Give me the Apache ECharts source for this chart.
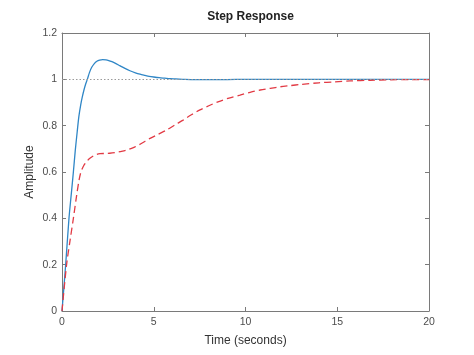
<!DOCTYPE html>
<html>
<head>
<meta charset="utf-8">
<script src="https://cdn.jsdelivr.net/npm/echarts@6/dist/echarts.min.js"></script>
<style>
html,body{margin:0;padding:0;background:#fff;}
#c{width:474px;height:355px;}
</style>
</head>
<body>
<div id="c"></div>
<script>
var titleText = 'Step Response';
var xName = 'Time (seconds)';
var yName = 'Amplitude';
var xTicks = [0, 5, 10, 15, 20];
var yTicks = [0, 0.2, 0.4, 0.6, 0.8, 1, 1.2];
var refLevel = 1;

var timeBlue = [0, 0.2, 0.38, 0.5, 0.62, 0.72, 0.83, 0.92, 1.02, 1.11, 1.2, 1.29, 1.38, 1.5, 1.62, 1.76, 1.9, 2.05, 2.22, 2.4, 2.55, 2.72, 2.89, 3.15, 3.43, 3.7, 4.0, 4.25, 4.52, 4.75, 5.0, 5.3, 5.6, 5.9, 6.2, 6.7, 7.3, 8, 9, 10, 12, 14, 16, 18, 20];
var ampBlue  = [0, 0.2, 0.4, 0.5, 0.6, 0.69, 0.775, 0.84, 0.89, 0.925, 0.955, 0.98, 1.0, 1.03, 1.052, 1.068, 1.078, 1.083, 1.085, 1.084, 1.081, 1.076, 1.07, 1.059, 1.047, 1.037, 1.028, 1.022, 1.017, 1.013, 1.01, 1.007, 1.005, 1.003, 1.002, 1.0, 0.999, 0.999, 0.999, 1.0, 1.0, 1.0, 1.0, 1.0, 1.0];

var timeRed = [0, 0.25, 0.45, 0.62, 0.8, 0.93, 1.02, 1.1, 1.18, 1.27, 1.35, 1.5, 1.7, 1.9, 2.07, 2.35, 2.6, 2.9, 3.16, 3.5, 3.89, 4.3, 4.8, 5.25, 5.7, 6.15, 6.6, 7.05, 7.52, 8.0, 8.5, 9.1, 9.7, 10.25, 10.8, 11.35, 11.9, 12.45, 13.0, 14.0, 14.85, 15.7, 16.8, 17.9, 19, 20];
var ampRed  = [0, 0.2, 0.31, 0.4, 0.5, 0.565, 0.597, 0.614, 0.627, 0.638, 0.646, 0.658, 0.669, 0.676, 0.679, 0.68, 0.681, 0.684, 0.688, 0.694, 0.705, 0.722, 0.745, 0.763, 0.781, 0.803, 0.824, 0.847, 0.868, 0.886, 0.903, 0.919, 0.932, 0.944, 0.954, 0.961, 0.968, 0.973, 0.978, 0.985, 0.989, 0.993, 0.996, 0.998, 0.999, 0.999];

function pairs(xs, ys){ return xs.map(function(x,i){ return [x, ys[i]]; }); }

var axisColor = '#7a7a7a';
var labelColor = '#4d4d4d';
var font = 'Liberation Sans, Arial, sans-serif';

function xAxisCfg(pos, showLabel){
  return {
    type: 'value', position: pos,
    min: xTicks[0], max: xTicks[xTicks.length-1], interval: xTicks[1]-xTicks[0],
    axisLine: {show: true, onZero: false, lineStyle: {color: axisColor, width: 1}},
    axisTick: {show: true, inside: true, length: 4, lineStyle: {color: axisColor}},
    axisLabel: {show: showLabel, color: labelColor, fontSize: 10.5, fontFamily: font, margin: 6},
    splitLine: {show: false},
    name: showLabel ? xName : '', nameLocation: 'middle', nameGap: 24, nameMoveOverlap: false,
    nameTextStyle: {color: '#333', fontSize: 12, fontFamily: font}
  };
}
function yAxisCfg(pos, showLabel){
  return {
    type: 'value', position: pos,
    min: yTicks[0], max: yTicks[yTicks.length-1], interval: 0.2,
    axisLine: {show: true, onZero: false, lineStyle: {color: axisColor, width: 1}},
    axisTick: {show: true, inside: true, length: 4, lineStyle: {color: axisColor}},
    axisLabel: {show: showLabel, color: labelColor, fontSize: 10.5, fontFamily: font, margin: 5},
    splitLine: {show: false},
    name: showLabel ? yName : '', nameLocation: 'middle', nameGap: 26, nameRotate: 90, nameMoveOverlap: false,
    nameTextStyle: {color: '#333', fontSize: 12, fontFamily: font}
  };
}

var chart = echarts.init(document.getElementById('c'), null, {renderer: 'canvas'});
chart.setOption({
  animation: false,
  backgroundColor: '#fff',
  title: {
    text: titleText, left: 245.5, textAlign: 'center', top: 6,
    textStyle: {fontSize: 12, fontWeight: 'bold', color: '#222', fontFamily: font}
  },
  grid: {left: 62, right: 45, top: 33, bottom: 44, containLabel: false},
  xAxis: [xAxisCfg('bottom', true), xAxisCfg('top', false)],
  yAxis: [yAxisCfg('left', true), yAxisCfg('right', false)],
  series: [
    {
      type: 'line', xAxisIndex: 0, yAxisIndex: 0,
      data: pairs(timeBlue, ampBlue), showSymbol: false, symbol: 'none',
      smooth: 0.3,
      lineStyle: {color: '#2f86c6', width: 1.3},
      markLine: {
        silent: true, symbol: 'none', label: {show: false},
        lineStyle: {color: '#9a9a9a', type: [1.5, 2], width: 1},
        data: [{yAxis: refLevel}]
      },
      z: 3
    },
    {
      type: 'line', xAxisIndex: 0, yAxisIndex: 0,
      data: pairs(timeRed, ampRed), showSymbol: false, symbol: 'none',
      smooth: 0.3,
      lineStyle: {color: '#e23a44', width: 1.3, type: [7, 4]},
      z: 4
    }
  ]
});
</script>
</body>
</html>
